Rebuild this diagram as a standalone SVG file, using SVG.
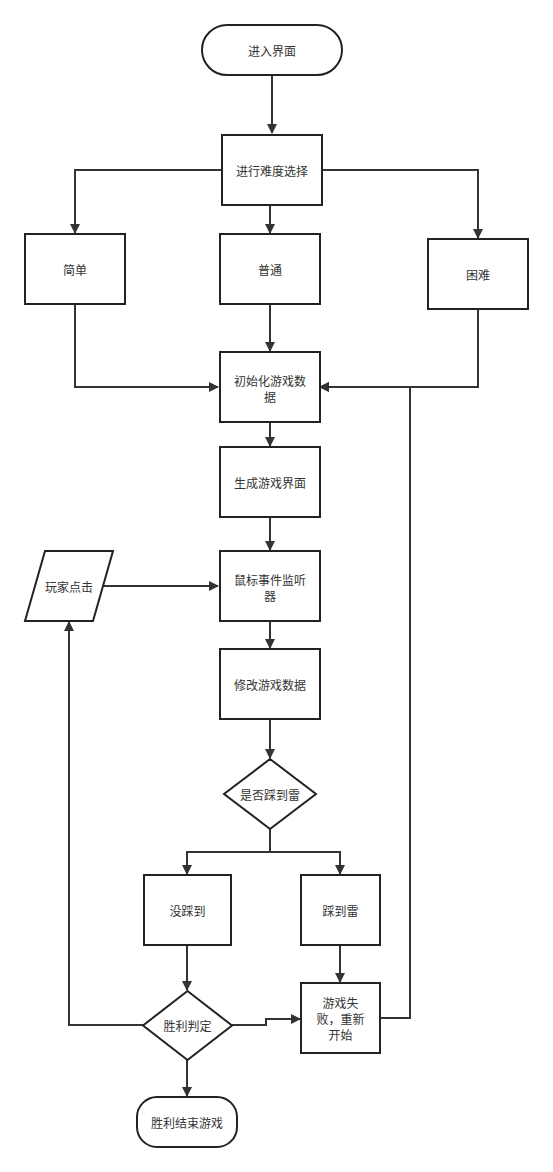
<svg xmlns="http://www.w3.org/2000/svg" width="553" height="1172" viewBox="0 0 553 1172">
<style>
.n{fill:#fff;stroke:#222;stroke-width:2}
.t{font-family:"Noto Sans CJK SC","Noto Sans",sans-serif;font-size:12px;fill:#333;text-anchor:middle;dominant-baseline:central}
.c{fill:none;stroke:#333;stroke-width:2;marker-end:url(#ah)}
</style>
<defs>
<marker id="ah" viewBox="0 0 10 10" refX="9" refY="5" markerWidth="5" markerHeight="5" markerUnits="strokeWidth" orient="auto">
<path d="M0,0 L10,5 L0,10 z" fill="#333"/>
</marker>
</defs>
<rect width="553" height="1172" fill="#fff"/>
<g id="connectors">
<path class="c" d="M272,75 V133"/>
<path class="c" d="M222,170 H75 V233"/>
<path class="c" d="M270,205 V233"/>
<path class="c" d="M322,170 H478 V238"/>
<path class="c" d="M75,304 V387 H218"/>
<path class="c" d="M270,304 V351"/>
<path class="c" d="M478,309 V387 H320"/>
<path class="c" d="M270,422 V446"/>
<path class="c" d="M270,517 V550"/>
<path class="c" d="M103,586 H218"/>
<path class="c" d="M270,621 V648"/>
<path class="c" d="M270,719 V758"/>
<path class="c" d="M270,829 V852 H187 V874"/>
<path class="c" d="M270,852 H340 V874"/>
<path class="c" d="M187,945 V990"/>
<path class="c" d="M340,945 V982"/>
<path class="c" d="M232,1025 H266 V1019 H300"/>
<path class="c" d="M380,1018 H410 V387 H320"/>
<path class="c" d="M143,1025 H69 V622"/>
<path class="c" d="M187,1060 V1096"/>
</g>
<g id="start"><rect class="n" x="202" y="25" width="140" height="50" rx="25"/><text class="t" x="272" y="50">进入界面</text></g>
<g id="select"><rect class="n" x="222" y="135" width="100" height="70"/><text class="t" x="272" y="170">进行难度选择</text></g>
<g id="easy"><rect class="n" x="25" y="234" width="100" height="70"/><text class="t" x="75" y="269">简单</text></g>
<g id="normal"><rect class="n" x="220" y="234" width="100" height="70"/><text class="t" x="270" y="269">普通</text></g>
<g id="hard"><rect class="n" x="428" y="239" width="100" height="70"/><text class="t" x="478" y="274">困难</text></g>
<g id="init"><rect class="n" x="220" y="352" width="100" height="70"/><text class="t" x="270" y="380">初始化游戏数</text><text class="t" x="270" y="396">据</text></g>
<g id="gen"><rect class="n" x="220" y="447" width="100" height="70"/><text class="t" x="270" y="482">生成游戏界面</text></g>
<g id="mouse"><rect class="n" x="220" y="551" width="100" height="70"/><text class="t" x="270" y="579">鼠标事件监听</text><text class="t" x="270" y="595">器</text></g>
<g id="click"><path class="n" d="M45,551 H113 L93,621 H25 Z"/><text class="t" x="69" y="586">玩家点击</text></g>
<g id="modify"><rect class="n" x="220" y="649" width="100" height="70"/><text class="t" x="270" y="684">修改游戏数据</text></g>
<g id="check"><path class="n" d="M270,759 L316,794 L270,829 L224,794 Z"/><text class="t" x="270" y="794">是否踩到雷</text></g>
<g id="safe"><rect class="n" x="144" y="875" width="87" height="70"/><text class="t" x="187.5" y="910">没踩到</text></g>
<g id="mine"><rect class="n" x="301" y="875" width="79" height="70"/><text class="t" x="340.5" y="910">踩到雷</text></g>
<g id="win"><path class="n" d="M187.5,991 L232,1025.5 L187.5,1060 L143,1025.5 Z"/><text class="t" x="187.5" y="1025.5">胜利判定</text></g>
<g id="fail"><rect class="n" x="301" y="983" width="79" height="70"/><text class="t" x="340.5" y="1002">游戏失</text><text class="t" x="340.5" y="1018">败，重新</text><text class="t" x="340.5" y="1034">开始</text></g>
<g id="end"><rect class="n" x="137" y="1097" width="100" height="50" rx="20"/><text class="t" x="187" y="1122">胜利结束游戏</text></g>
</svg>
